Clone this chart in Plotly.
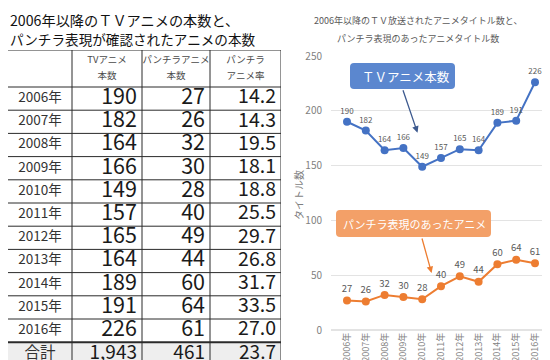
import plotly.graph_objects as go

years = ["2006年", "2007年", "2008年", "2009年", "2010年", "2011年",
         "2012年", "2013年", "2014年", "2015年", "2016年"]
tv_count = [190, 182, 164, 166, 149, 157, 165, 164, 189, 191, 226]
panchira_count = [27, 26, 32, 30, 28, 40, 49, 44, 60, 64, 61]
panchira_rate = [14.2, 14.3, 19.5, 18.1, 18.8, 25.5, 29.7, 26.8, 31.7, 33.5, 27.0]
total_label = "合計"
header_line1 = ["", "TVアニメ", "パンチラアニメ", "パンチラ"]
header_line2 = ["", "本数", "本数", "アニメ率"]

tv_total = sum(tv_count)
pc_total = sum(panchira_count)
rate_total = pc_total / tv_total * 100

FONT = "Noto Sans CJK JP"
W, H = 550, 360

# ---------- table geometry (pixel units inside the table area) ----------
TBL_TOP = 42
col_edges = [0, 64, 134, 202, 273]
HEADER_H = 37
ROW_H = 23.2
TBL_H = H - TBL_TOP

col1 = years + [total_label]
col2 = [str(v) for v in tv_count] + [f"{tv_total:,}"]
col3 = [str(v) for v in panchira_count] + [f"{pc_total:,}"]
col4 = [f"{v:.1f}" for v in panchira_rate] + [f"{rate_total:.1f}"]
n = len(col1)
row_top = [HEADER_H + ROW_H * i for i in range(n + 1)]
row_mid = [HEADER_H + ROW_H * (i + 0.5) for i in range(n)]

fig = go.Figure()

# total row background
fig.add_shape(type="rect", xref="x2", yref="y2",
              x0=col_edges[0], x1=col_edges[-1], y0=row_top[n - 1], y1=TBL_H + 5,
              fillcolor="#eeeeee", line_width=0, layer="below")
# horizontal grid lines
for i, yy in enumerate([0] + row_top[:n]):
    fig.add_shape(type="line", xref="x2", yref="y2",
                  x0=col_edges[0], x1=col_edges[-1], y0=yy, y1=yy,
                  line=dict(color="#2a2a2a", width=2 if i == n else 1))
# vertical grid lines
for xx in col_edges[1:]:
    fig.add_shape(type="line", xref="x2", yref="y2",
                  x0=xx, x1=xx, y0=0, y1=TBL_H + 5,
                  line=dict(color="#2a2a2a", width=1))

# header text (two lines)
hx = [(col_edges[c] + col_edges[c + 1]) / 2 for c in range(1, 4)]
for labels, yy in ((header_line1, 10.5), (header_line2, 26.5)):
    fig.add_trace(go.Scatter(
        x=hx, y=[yy] * 3, mode="text", text=labels[1:],
        textposition="middle center",
        textfont=dict(family=FONT, size=9.5, color="#4a4a4a"),
        xaxis="x2", yaxis="y2", showlegend=False, hoverinfo="skip"))

# body text
body_cols = [col1, col2, col3, col4]
body_sizes = [[13.5] * (n - 1) + [15.5],
              [21.5] * (n - 1) + [19],
              [21.5] * (n - 1) + [19],
              [19.5] * (n - 1) + [19]]
for c in range(4):
    if c == 0:
        xs = [(col_edges[0] + col_edges[1]) / 2] * n
        pos = "middle center"
    else:
        xs = [col_edges[c + 1] - 5] * n
        pos = "middle left"
    fig.add_trace(go.Scatter(
        x=xs, y=row_mid, mode="text", text=body_cols[c], textposition=pos,
        textfont=dict(family=FONT, size=body_sizes[c],
                      color="#333" if c == 0 else "#1a1a1a"),
        xaxis="x2", yaxis="y2", showlegend=False, hoverinfo="skip"))

# ---------- line chart ----------
blue = "#4472C4"
orange = "#ED7D31"
fig.add_trace(go.Scatter(
    x=years, y=tv_count, mode="lines+markers+text",
    line=dict(color=blue, width=2), marker=dict(color=blue, size=8),
    text=[str(v) for v in tv_count], textposition="top center",
    textfont=dict(family=FONT, size=8, color="#595959"),
    showlegend=False, cliponaxis=False,
))
fig.add_trace(go.Scatter(
    x=years, y=panchira_count, mode="lines+markers+text",
    line=dict(color=orange, width=2), marker=dict(color=orange, size=8),
    text=[str(v) for v in panchira_count], textposition="top center",
    textfont=dict(family=FONT, size=9.5, color="#595959"),
    showlegend=False, cliponaxis=False,
))

fig.update_layout(
    width=W, height=H, margin=dict(l=0, r=0, t=0, b=0),
    paper_bgcolor="white", plot_bgcolor="white",
    font=dict(family=FONT),
    xaxis=dict(domain=[323 / W, 543 / W], type="category", tickangle=-90,
               showgrid=False, showline=False, ticks="",
               tickfont=dict(size=9, color="#7f7f7f"), automargin=False),
    yaxis=dict(domain=[1 - 322 / H, 1 - 48 / H], range=[0, 250], dtick=50,
               showgrid=True, gridcolor="#e3e3e3", zeroline=True,
               zerolinecolor="#e3e3e3", showline=False,
               ticks="outside", ticklen=6, tickcolor="rgba(0,0,0,0)",
               tickfont=dict(size=10, color="#7f7f7f"), automargin=False),
    xaxis2=dict(domain=[0, col_edges[-1] / W], range=[0, col_edges[-1]],
                visible=False, fixedrange=True),
    yaxis2=dict(domain=[0, 1 - TBL_TOP / H], range=[TBL_H, 0],
                visible=False, fixedrange=True),
)

# y axis title
fig.add_annotation(xref="paper", yref="paper", x=290 / W, y=1 - 187 / H,
                   xanchor="center", yanchor="middle", showarrow=False,
                   textangle=-90, text="タイトル数",
                   font=dict(size=10, color="#7f7f7f"))

# titles
fig.add_annotation(xref="paper", yref="paper", x=0, y=1 - 12 / H,
                   xanchor="left", yanchor="middle", showarrow=False,
                   text="2006年以降のＴＶアニメの本数と、",
                   font=dict(size=14.2, color="#111"))
fig.add_annotation(xref="paper", yref="paper", x=0, y=1 - 31 / H,
                   xanchor="left", yanchor="middle", showarrow=False,
                   text="パンチラ表現が確認されたアニメの本数",
                   font=dict(size=13.6, color="#111"))
fig.add_annotation(xref="paper", yref="paper", x=410 / W, y=1 - 13 / H,
                   xanchor="center", yanchor="middle", showarrow=False,
                   text="2006年以降のＴＶ放送されたアニメタイトル数と、",
                   font=dict(size=9, color="#595959"))
fig.add_annotation(xref="paper", yref="paper", x=410 / W, y=1 - 30 / H,
                   xanchor="center", yanchor="middle", showarrow=False,
                   text="パンチラ表現のあったアニメタイトル数",
                   font=dict(size=9, color="#595959"))


def rounded_box(x0, y0, x1, y1, r, color):
    def px(x):
        return x / W

    def py(y):
        return 1 - y / H
    path = (f"M {px(x0 + r)},{py(y0)} L {px(x1 - r)},{py(y0)} "
            f"Q {px(x1)},{py(y0)} {px(x1)},{py(y0 + r)} "
            f"L {px(x1)},{py(y1 - r)} Q {px(x1)},{py(y1)} {px(x1 - r)},{py(y1)} "
            f"L {px(x0 + r)},{py(y1)} Q {px(x0)},{py(y1)} {px(x0)},{py(y1 - r)} "
            f"L {px(x0)},{py(y0 + r)} Q {px(x0)},{py(y0)} {px(x0 + r)},{py(y0)} Z")
    fig.add_shape(type="path", xref="paper", yref="paper", path=path,
                  fillcolor=color, line_width=0, layer="above")


# callouts
rounded_box(342, 55, 447, 81, 4, "#5b87cf")
fig.add_annotation(xref="paper", yref="paper", x=352 / W, y=1 - 68 / H,
                   xanchor="left", yanchor="middle", showarrow=False,
                   text="ＴＶアニメ本数",
                   font=dict(size=12.5, color="white"))
fig.add_annotation(x=3.75, y=180, xref="x", yref="y", text="",
                   showarrow=True, ax=-15, ay=-44,
                   arrowhead=2, arrowsize=1, arrowwidth=1.3, arrowcolor="#3d5a8f")
rounded_box(328, 202, 483, 229, 4, "#f3a068")
fig.add_annotation(xref="paper", yref="paper", x=333 / W, y=1 - 215.5 / H,
                   xanchor="left", yanchor="middle", showarrow=False,
                   text="パンチラ表現のあったアニメ",
                   font=dict(size=11, color="white"))
fig.add_annotation(x=4.5, y=52, xref="x", yref="y", text="",
                   showarrow=True, ax=-10, ay=-36,
                   arrowhead=2, arrowsize=1, arrowwidth=1.3, arrowcolor=orange)

fig.write_html("out.html")
